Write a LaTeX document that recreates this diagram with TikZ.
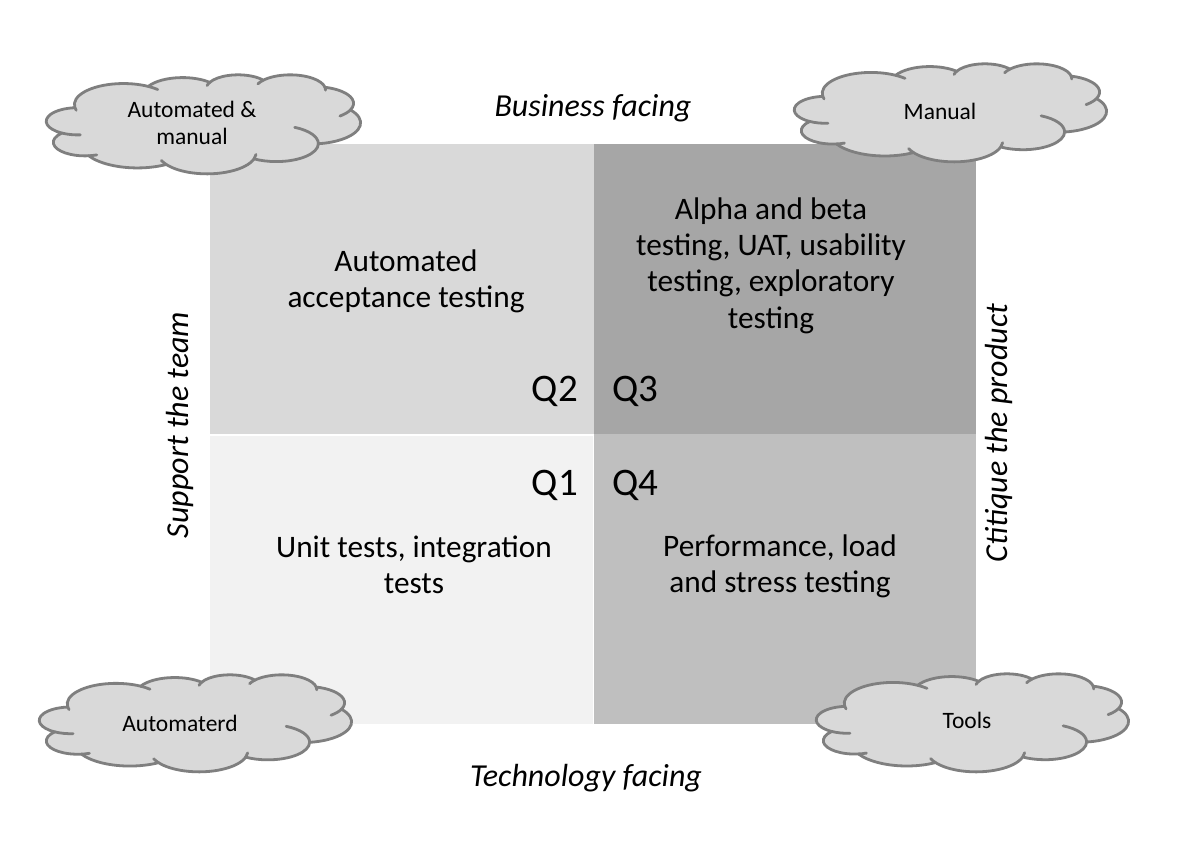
\documentclass[tikz,border=0pt]{standalone}
\usepackage{fontspec}
\setmainfont{Carlito}
\definecolor{qone}{HTML}{F2F2F2}
\definecolor{qtwo}{HTML}{D9D9D9}
\definecolor{qthree}{HTML}{A6A6A6}
\definecolor{qfour}{HTML}{BFBFBF}
\definecolor{cldfill}{HTML}{D9D9D9}
\definecolor{cldline}{HTML}{7F7F7F}
% --- PowerPoint-like cloud path (y grows downwards in the picture) ---------
\newcommand\cldStart[4]{%
  \xdef\cldW{#3}\xdef\cldH{#4}%
  \pgfmathsetmacro\cldOxT{#1-#3/2}\xdef\cldOx{\cldOxT}%
  \pgfmathsetmacro\cldOyT{#2-#4/2}\xdef\cldOy{\cldOyT}%
  \pgfmathsetmacro\cldPxT{\cldOx+3.900/43.2*\cldW}\xdef\cldPx{\cldPxT}%
  \pgfmathsetmacro\cldPyT{\cldOy+14.370/43.2*\cldH}\xdef\cldPy{\cldPyT}%
  \xdef\cldMain{(\cldPx,\cldPy)}%
  \gdef\cldInner{}%
}
\newcommand\cldArc[5]{%
  \pgfmathsetmacro\cRx{#2/1000/43.2*\cldW}%
  \pgfmathsetmacro\cRy{#3/1000/43.2*\cldH}%
  \pgfmathsetmacro\cTs{atan2(#2/1000*sin(#4),#3/1000*cos(#4))}%
  \pgfmathsetmacro\cTe{atan2(#2/1000*sin(#4+#5),#3/1000*cos(#4+#5))}%
  \pgfmathsetmacro\cDd{mod(\cTe-(\cTs)+720,360)}%
  \pgfmathsetmacro\cCx{\cldPx-\cRx*cos(\cTs)}%
  \pgfmathsetmacro\cCy{\cldPy-\cRy*sin(\cTs)}%
  \pgfmathsetmacro\cNx{\cCx+\cRx*cos(\cTe)}%
  \pgfmathsetmacro\cNy{\cCy+\cRy*sin(\cTe)}%
  \pgfmathsetmacro\cTsN{-(\cTs)}%
  \pgfmathsetmacro\cDdN{-(\cDd)}%
  \xdef\cldMain{\cldMain arc[start angle=\cTsN, delta angle=\cDdN, x radius=\cRx bp, y radius=\cRy bp]}%
  \expandafter\xdef\csname cldE#1\endcsname{{\cCx}{\cCy}{\cRx}{\cRy}{#2}{#3}}%
  \xdef\cldPx{\cNx}\xdef\cldPy{\cNy}%
}
\newcommand\cldInAux[8]{%
  \pgfmathsetmacro\cTs{atan2(#5/1000*sin(#7),#6/1000*cos(#7))}%
  \pgfmathsetmacro\cTe{atan2(#5/1000*sin(#7+#8),#6/1000*cos(#7+#8))}%
  \pgfmathsetmacro\cDd{mod(\cTe-(\cTs)+720,360)}%
  \pgfmathsetmacro\cSx{#1+#3*cos(\cTs)}%
  \pgfmathsetmacro\cSy{#2+#4*sin(\cTs)}%
  \pgfmathsetmacro\cTsN{-(\cTs)}%
  \pgfmathsetmacro\cDdN{-(\cDd)}%
  \xdef\cldInner{\cldInner (\cSx,\cSy) arc[start angle=\cTsN, delta angle=\cDdN, x radius=#3 bp, y radius=#4 bp]}%
}
\newcommand\cldIn[3]{%
  \edef\cldTmp{\csname cldE#1\endcsname}%
  \expandafter\cldInAux\cldTmp{#2}{#3}%
}
\newcommand\drawcloud[5]{%
  \cldStart{#2}{#3}{#4}{#5}%
  \cldArc{1}{6753}{9190}{-190.4875}{123.7805}%
  \cldArc{2}{5333}{7267}{-144.1024}{89.9452}%
  \cldArc{3}{4365}{5945}{-145.8079}{99.7230}%
  \cldArc{4}{4857}{6595}{-130.9861}{117.2417}%
  \cldArc{5}{5333}{7273}{-78.7089}{109.0269}%
  \cldArc{6}{6775}{9220}{-46.2673}{130.2690}%
  \cldArc{7}{5785}{7867}{0.6250}{114.0333}%
  \cldArc{8}{6752}{9215}{22.4516}{115.1726}%
  \cldArc{9}{7720}{10543}{66.2426}{75.7110}%
  \cldArc{10}{4360}{5918}{-274.9421}{146.7356}%
  \cldArc{11}{4345}{5945}{-246.8285}{152.5189}%
  \cldIn{11}{86.742}{26.430}%
  \cldIn{10}{73.610}{11.447}%
  \cldIn{8}{137.624}{14.081}%
  \cldIn{8}{6.453}{15.998}%
  \cldIn{7}{-70.292}{70.917}%
  \cldIn{5}{30.318}{27.752}%
  \cldIn{4}{-13.744}{14.859}%
  \cldIn{4}{-149.18}{18.195}%
  \cldIn{3}{-163.49}{19.506}%
  \cldIn{1}{-66.707}{12.319}%
  \cldIn{1}{159.12}{10.39}%
  \edef\cldDo{\noexpand\path[cloudbody] \cldMain -- cycle; \noexpand\path[cloudinner] \cldInner;}%
  \cldDo
  \coordinate (#1) at (#2,#3);
}
\tikzset{
  cloudbody/.style={fill=cldfill, draw=cldline, line width=2.8bp, line join=round},
  cloudinner/.style={draw=cldline, line width=2.8bp, line cap=round},
  qtext/.style={align=center, inner sep=0pt, font=\fontsize{31.3bp}{36.3bp}\selectfont},
  qlabel/.style={inner sep=0pt, font=\fontsize{39bp}{46bp}\selectfont},
  ctext/.style={align=center, inner sep=0pt, font=\fontsize{23.5bp}{26.5bp}\selectfont},
  side/.style={inner sep=0pt, font=\fontsize{32bp}{38bp}\selectfont\itshape},
}
\begin{document}
\begin{tikzpicture}[x=1bp, y=-1bp]
\useasboundingbox[fill=white] (0,0) rectangle (1190,842);
% quadrants
\fill[qtwo]   (210,144) rectangle (594,434);
\fill[qthree] (594,144) rectangle (976,434);
\fill[qone]   (210,435.5) rectangle (593,724);
\fill[qfour]  (594,434) rectangle (976,724);
% quadrant texts
\node[qtext] (t2) at (406,281) {Automated\\acceptance testing};
\node[qtext] (t3) at (771,265.5) {Alpha and beta\\testing, UAT, usability\\testing, exploratory\\testing};
\node[qtext] (t1) at (414,565) {Unit tests, integration\\tests};
\node[qtext] (t4) at (780,566) {Performance, load\\and stress testing};
% quadrant labels
\node[qlabel, anchor=base east] (q2) at (578,401) {Q2};
\node[qlabel, anchor=base west] (q3) at (612,401) {Q3};
\node[qlabel, anchor=base east] (q1) at (578,495) {Q1};
\node[qlabel, anchor=base west] (q4) at (612,495) {Q4};
% side labels
\node[side] (business) at (593,108) {Business facing};
\node[side] (technology) at (586,778) {Technology facing};
\node[side, rotate=90] (support) at (180,425) {Support the team};
\node[side, rotate=90] (critique) at (999,433) {Ctitique the product};
% clouds
\drawcloud{c1}{203.5}{124}{314}{99}
\drawcloud{c2}{950.5}{112.5}{312}{98}
\drawcloud{c3}{195.5}{723}{312}{97}
\drawcloud{c4}{972.5}{722.5}{312}{98}
\node[ctext] (c1t) at (192,123) {Automated \&\\manual};
\node[ctext] (c2t) at (940,111) {Manual};
\node[ctext] (c3t) at (180,723) {Automaterd};
\node[ctext] (c4t) at (967,720) {Tools};
\end{tikzpicture}
\end{document}
